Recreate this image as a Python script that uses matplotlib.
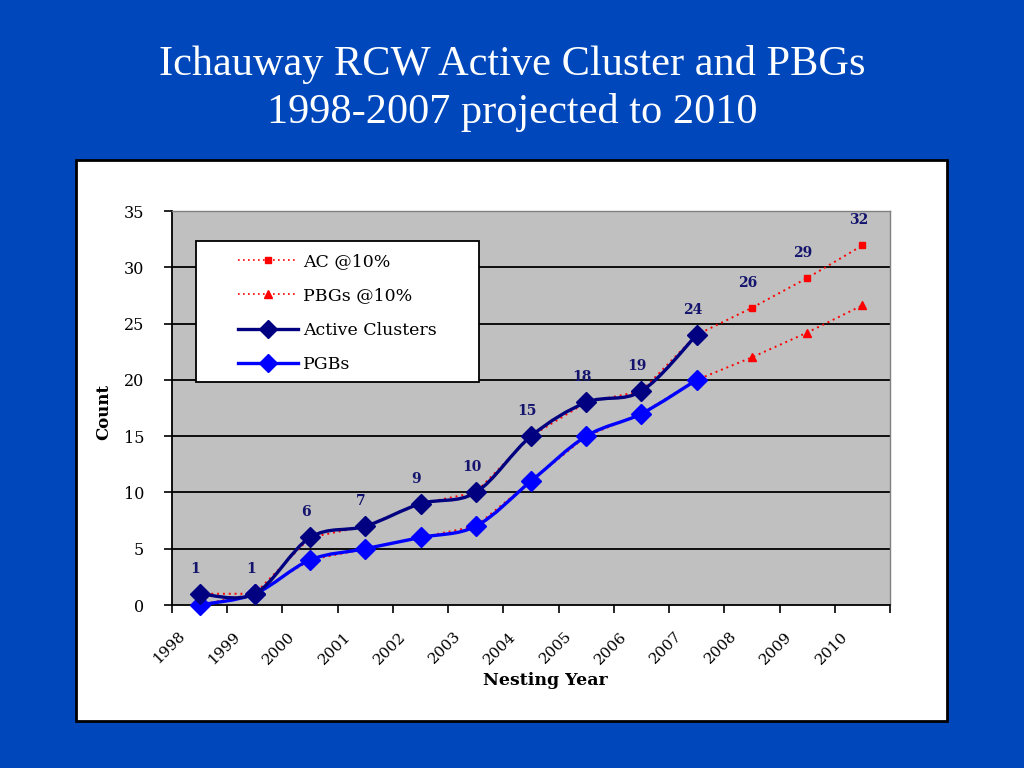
import matplotlib
matplotlib.use("Agg")
import matplotlib.pyplot as plt
import matplotlib.transforms as mtransforms
from matplotlib.path import Path
from matplotlib.patches import PathPatch, Rectangle
from matplotlib.lines import Line2D
import numpy as np

years = ["1998", "1999", "2000", "2001", "2002", "2003", "2004",
         "2005", "2006", "2007", "2008", "2009", "2010"]
active_clusters = [1, 1, 6, 7, 9, 10, 15, 18, 19, 24]
pgbs = [0, 1, 4, 5, 6, 7, 11, 15, 17, 20]
ac_10 = [1, 1, 6, 7, 9, 10, 15, 18, 19, 24, 26.4, 29.04, 31.94]
pbg_10 = [0, 1, 4, 5, 6, 7, 11, 15, 17, 20, 22.0, 24.2, 26.62]
ac_labels = ["1", "1", "6", "7", "9", "10", "15", "18", "19", "24", "26", "29", "32"]

TITLE_FONT = ["Liberation Serif", "DejaVu Serif"]
CHART_FONT = ["DejaVu Serif"]
plt.rcParams["font.family"] = CHART_FONT

BG = "#0047BB"
NAVY = "#000080"
BLUE = "#0000FF"
GRAY = "#C0C0C0"

fig = plt.figure(figsize=(10.24, 7.68), dpi=100)
fig.patch.set_facecolor(BG)

def fx(px):
    return px / 1024.0

def fy(py):
    return 1 - py / 768.0

# white chart panel
panel = Rectangle((fx(76), fy(721)), fx(947) - fx(76), fy(160) - fy(721),
                  transform=fig.transFigure, facecolor="white",
                  edgecolor="black", linewidth=2, zorder=0)
fig.patches.append(panel)

# title
fig.text(0.5, fy(65), "Ichauway RCW Active Cluster and PBGs", color="white",
         fontsize=30.5, ha="center", va="center", family=TITLE_FONT)
fig.text(0.5, fy(113), "1998-2007 projected to 2010", color="white",
         fontsize=30.5, ha="center", va="center", family=TITLE_FONT)

ax = fig.add_axes([fx(172), fy(605), fx(890) - fx(172), fy(211) - fy(605)])
ax.set_facecolor(GRAY)
ax.set_zorder(1)

n = len(years)
x_all = np.arange(n) + 0.5
ax.set_xlim(0, n)
ax.set_ylim(0, 35)

# grid
for v in range(5, 35, 5):
    ax.axhline(v, color="black", linewidth=1.3, zorder=1)

for s in ["top", "right"]:
    ax.spines[s].set_color("#808080")
    ax.spines[s].set_linewidth(1)
ax.spines["left"].set_linewidth(1.3)
ax.spines["bottom"].set_linewidth(1.3)

ax.set_yticks(range(0, 36, 5))
ax.set_yticklabels([str(v) for v in range(0, 36, 5)], fontsize=11.5)
ax.tick_params(axis="y", length=6, width=1.2, pad=14)

ax.set_xticks(np.arange(n + 1))
ax.set_xticklabels([])
ax.tick_params(axis="x", length=6, width=1.2)
ax.set_xticks(x_all, minor=True)
ax.set_xticklabels(years, minor=True, rotation=45, ha="right", va="center",
                   rotation_mode="anchor", fontsize=11)
ax.tick_params(axis="x", which="minor", length=0, pad=21)
off = mtransforms.ScaledTranslation(-17 / 100.0, 0, fig.dpi_scale_trans)
for lbl in ax.get_xticklabels(minor=True):
    lbl.set_transform(lbl.get_transform() + off)

# projected (straight dotted) series
ax.plot(x_all, ac_10, linestyle=(0, (1, 2)), color="red", linewidth=1.4,
        marker="s", markersize=4.5, zorder=3)
ax.plot(x_all, pbg_10, linestyle=(0, (1, 2)), color="red", linewidth=1.4,
        marker="^", markersize=5.5, zorder=3)

def smooth_path(xs, ys):
    pts = np.column_stack([xs, ys]).astype(float)
    verts = [pts[0]]
    codes = [Path.MOVETO]
    m = len(pts)
    for i in range(m - 1):
        p0 = pts[i - 1] if i > 0 else pts[i]
        p1 = pts[i]
        p2 = pts[i + 1]
        p3 = pts[i + 2] if i + 2 < m else pts[i + 1]
        c1 = p1 + (p2 - p0) / 6.0
        c2 = p2 - (p3 - p1) / 6.0
        verts += [c1, c2, p2]
        codes += [Path.CURVE4] * 3
    return Path(verts, codes)

xa = x_all[:len(active_clusters)]
ax.add_patch(PathPatch(smooth_path(xa, pgbs), facecolor="none", edgecolor=BLUE,
                       linewidth=2.4, zorder=4))
ax.plot(xa, pgbs, linestyle="none", marker="D", markersize=10, color=BLUE,
        zorder=5, clip_on=False)
ax.add_patch(PathPatch(smooth_path(xa, active_clusters), facecolor="none",
                       edgecolor=NAVY, linewidth=2.4, zorder=6))
ax.plot(xa, active_clusters, linestyle="none", marker="D", markersize=10,
        color=NAVY, zorder=7, clip_on=False)

# data labels
for xi, yi, t in zip(x_all, ac_10, ac_labels):
    ax.annotate(t, (xi, yi), xytext=(-3, 18), textcoords="offset points",
                ha="center", va="center", fontsize=10, fontweight="bold",
                color="#14146E", zorder=8)

ax.set_ylabel("Count", fontsize=12, fontweight="bold")
ax.yaxis.set_label_coords((112 - 172) / 718.0, (605 - 412) / 394.0)
ax.set_xlabel("Nesting Year", fontsize=12.5, fontweight="bold")
ax.xaxis.set_label_coords((545 - 172) / 718.0, -(672 - 605) / 394.0)

# legend box
lx0, lx1, ly0, ly1 = 196, 479, 241, 382
ax.add_patch(Rectangle(((lx0 - 172) / 718.0, (605 - ly1) / 394.0),
                       (lx1 - lx0) / 718.0, (ly1 - ly0) / 394.0,
                       transform=ax.transAxes, facecolor="white",
                       edgecolor="black", linewidth=1.3, zorder=9))
handles = [
    Line2D([], [], linestyle=(0, (1, 2)), color="red", linewidth=1.2,
           marker="s", markersize=4.5),
    Line2D([], [], linestyle=(0, (1, 2)), color="red", linewidth=1.2,
           marker="^", markersize=5.5),
    Line2D([], [], color=NAVY, linewidth=2.4, marker="D", markersize=9),
    Line2D([], [], color=BLUE, linewidth=2.4, marker="D", markersize=9),
]
leg = ax.legend(handles, ["AC @10%", "PBGs @10%", "Active Clusters", "PGBs"],
                loc="upper left",
                bbox_to_anchor=((238 - 172) / 718.0, (605 - 253) / 394.0),
                frameon=False, fontsize=12.5, handlelength=3.45,
                handletextpad=0.29, labelspacing=1.0, borderpad=0,
                borderaxespad=0)
leg.set_zorder(10)

fig.savefig("out.png", dpi=100, facecolor=fig.get_facecolor())
